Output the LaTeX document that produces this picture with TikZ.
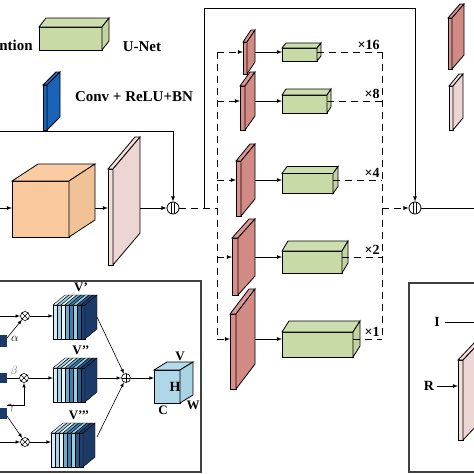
\documentclass[tikz,border=0pt]{standalone}
\usepackage{fontspec}
\setmainfont{Liberation Serif}
\usetikzlibrary{arrows}

\definecolor{unetgreen}{HTML}{C8DBA6}
\definecolor{convblue}{HTML}{1A66BF}
\definecolor{cubeorange}{HTML}{F9C89C}
\definecolor{slabpink}{HTML}{F3DCDA}
\definecolor{slabred}{HTML}{D98E88}
\definecolor{cubeblue}{HTML}{AED8EA}
\definecolor{navy}{HTML}{1C3A66}
\definecolor{sA}{HTML}{D4ECF5}
\definecolor{sB}{HTML}{A8D4E8}
\definecolor{sC}{HTML}{E6F4F9}
\definecolor{sD}{HTML}{6FAACB}
\definecolor{sE}{HTML}{3F7FAE}
\definecolor{sF}{HTML}{9DCBE0}
\definecolor{sG}{HTML}{2A5A8C}
\definecolor{sH}{HTML}{1F3F6E}

% box with front face at (#1,#2), size #3 x #4, depth #5 right and #6 up
\newcommand{\cuboid}[7]{%
  \filldraw[fill=#7] ({#1},{#2}) rectangle ++({#3},{#4});
  \filldraw[fill=#7!92!white] ({#1},{#2}) -- ++({#5},{-(#6)}) -- ++({#3},0) -- ++({-(#5)},{#6}) -- cycle;
  \filldraw[fill=#7!97!black] ({#1+#3},{#2}) -- ++({#5},{-(#6)}) -- ++(0,{#4}) -- ++({-(#5)},{#6}) -- cycle;
}

\tikzset{
  lbl/.style={font=\bfseries\fontsize{15}{18}\selectfont, inner sep=0pt},
  smlbl/.style={font=\bfseries\fontsize{13}{15}\selectfont, inner sep=0pt},
  catnode/.style={circle, draw, fill=white, minimum size=12pt, inner sep=0pt,
    path picture={\draw ([xshift=-1.6pt]path picture bounding box.north) -- ([xshift=-1.6pt]path picture bounding box.south)
      ([xshift=1.6pt]path picture bounding box.north) -- ([xshift=1.6pt]path picture bounding box.south);}},
  multnode/.style={circle, draw, fill=white, minimum size=9pt, inner sep=0pt, line width=0.6pt,
    path picture={\draw (path picture bounding box.north west) -- (path picture bounding box.south east)
      (path picture bounding box.south west) -- (path picture bounding box.north east);}},
  sumnode/.style={circle, draw, fill=white, minimum size=9pt, inner sep=0pt, line width=0.6pt,
    path picture={\draw (path picture bounding box.north) -- (path picture bounding box.south)
      (path picture bounding box.west) -- (path picture bounding box.east);}},
  dash line/.style={dash pattern=on 7pt off 5pt},
}

\begin{document}
\begin{tikzpicture}[x=1pt,y=-1pt,line width=0.8pt,>=latex]
\useasboundingbox (0,0) rectangle (474,474);

% Draw legend
\node[lbl,anchor=east] (attn) at (33,45) {ntion};
\cuboid{39}{27}{63}{23}{7}{9}{unetgreen}
\node[lbl] (unet) at (142,47) {U-Net};
\cuboid{43}{85}{4}{45}{13}{13}{convblue}
\node[lbl] (conv) at (134,97) {Conv + ReLU+BN};
\cuboid{448}{18}{4}{51}{12}{14}{slabred}
\cuboid{449}{86}{4}{44}{10}{12}{slabpink}

% Draw concat nodes
\node[catnode] (cat1) at (173,208) {};
\node[catnode] (cat2) at (415,208) {};

% Draw skip line from the top
\coordinate (skip) at (0,131);
\draw[->] (skip) -| (cat1.north);

% Draw first stage: box and slab
\coordinate (xin) at (0,208);
\coordinate (cube in) at (12,208);
\coordinate (cube out) at (95,208);
\coordinate (slab in) at (108,208);
\coordinate (slab out) at (140,208);
\cuboid{12}{181}{57}{56}{26}{17}{cubeorange}
\cuboid{108}{169}{5}{96}{27}{32}{slabpink}
\draw[->] (xin) -- (cube in);
\draw[->] (cube out) -- (slab in);
\draw[->] (slab out) -- (cat1.west);

% Draw pyramid branches
\coordinate (pyr in) at (217,208);
\coordinate (pyr out) at (382,208);
\coordinate (split) at (204,208);
\coordinate (corner) at (415,8);
\draw[dash line] (cat1.east) -- (pyr in);
\draw[->] (split) |- (corner) -- (cat2.north);
\draw[dash line] (217,52) -- (217,339);
\draw[dash line] (382,52) -- (382,339);
\draw[dash line,->] (pyr out) -- (cat2.west);
\foreach \n/\y/\sx/\sh/\sdx/\sdy/\gw/\gh/\gdx/\gdy/\k in
  {a/52/243/32/8/12/35/13/4/5/16, b/101/240/44/10/14/45/18/4/6/8,
   c/180/236/55/14/17/51/20/5/7/4, d/257/232/57/17/19/60/22/6/10/2,
   e/339/230/75/19/25/71/25/7/11/1}
{
  \cuboid{\sx}{\y+(\sdy-\sh)/2}{255-\sdx-\sx}{\sh}{\sdx}{\sdy}{slabred}
  \cuboid{282}{\y+(\gdy-\gh)/2}{\gw}{\gh}{\gdx}{\gdy}{unetgreen}
  \coordinate (in\n) at (217,\y);
  \coordinate (slab\n) at (\sx,\y);
  \coordinate (back\n) at (255,\y);
  \coordinate (box\n) at (282,\y);
  \coordinate (end\n) at ({282+\gw},\y);
  \coordinate (out\n) at (382,\y);
  \draw[dash line,->] (in\n) -- (slab\n);
  \draw[->] (back\n) -- (box\n);
  \draw[dash line] (end\n) -- (out\n);
  \node[smlbl,font=\bfseries\fontsize{14}{16}\selectfont,anchor=south east] (k\n) at (380,{\y-2}) {×\k};
}
\coordinate (yout) at (474,208);
\draw (cat2.east) -- (yout);

% Draw lower left frame
\draw[line width=1.3pt, black!75] (0,281) -- (201,281) -- (201,472) -- (0,472);

% Draw weights and multiply nodes
\node[multnode] (m1) at (25,316) {};
\node[multnode] (m2) at (24,378) {};
\node[multnode] (m3) at (25,442) {};
\fill[navy] (0,335) rectangle (7,347);
\fill[navy] (0,373) rectangle (7,383);
\fill[navy] (0,408) rectangle (7,419);
\coordinate (in1) at (0,316);
\coordinate (in3) at (0,442);
\coordinate (w1) at (7,338);
\coordinate (w2) at (7,378);
\coordinate (w3) at (7,405);
\coordinate (w3b) at (7,416);
\draw[->,line width=0.6pt] (in1) -- (m1);
\draw[->,line width=0.6pt] (in3) -- (m3);
\draw[->,line width=0.6pt] (w1) -- (m1);
\draw[line width=0.6pt] (w2) -- (m2);
\draw[->,line width=0.6pt] (w3) -| (m2.south);
\draw[->,line width=0.6pt] (w3b) -- (m3);
\node[font=\fontsize{12}{13}\selectfont] (alpha) at (15,339) {$\alpha$};
\node[font=\fontsize{12}{13}\selectfont, text=black!60] (beta) at (14,371) {$\beta$};
\node[font=\fontsize{12}{13}\selectfont] (gamma) at (11,408) {$\gamma$};

% Draw the three stacks
\foreach \s/\sy/\sx/\lab/\oy in {p/305/53/{V'}/317, q/368/53/{V'{}'}/378, r/433/51/{V'{}'{}'}/437}
{
  \foreach \c [count=\i from 0] in {sA,sB,sC,sD,sE,sF,sG,sH}
  {
    \filldraw[fill=\c,line width=0.4pt] ({\sx+4*\i},\sy) rectangle ++(4,34);
    \filldraw[fill=\c,line width=0.4pt] ({\sx+4*\i},\sy) -- ++(12,-10) -- ++(4,0) -- ++(-12,10) -- cycle;
  }
  \filldraw[fill=navy,line width=0.4pt] ({\sx+32},\sy) -- ++(12,-10) -- ++(0,34) -- ++(-12,10) -- cycle;
  \node[smlbl] (lab\s) at ({\sx+28},{\sy-18}) {\lab};
  \coordinate (stack\s) at (97,\oy);
}
\coordinate (pin) at (53,316);
\coordinate (qin) at (53,378);
\coordinate (rin) at (51,442);
\draw[->,line width=0.6pt] (m1) -- (pin);
\draw[->,line width=0.6pt] (m2) -- (qin);
\draw[->,line width=0.6pt] (m3) -- (rin);

% Draw sum node and output cube
\node[sumnode] (sum) at (126,378) {};
\draw[->,line width=0.6pt] (stackp) -- (sum);
\draw[->,line width=0.6pt] (stackq) -- (sum);
\draw[->,line width=0.6pt] (stackr) -- (sum);
\cuboid{154}{370}{26}{33}{13}{8}{cubeblue}
\coordinate (vcube) at (154,378);
\draw[->,line width=0.6pt] (sum) -- (vcube);
\node[smlbl] (lv) at (180,356) {V};
\node[smlbl,font=\bfseries\fontsize{14}{15}\selectfont] (lh) at (175,387) {H};
\node[smlbl] (lc) at (163,410) {C};
\node[smlbl] (lw) at (193,405) {W};

% Draw lower right frame
\draw[line width=1.3pt, black!75] (474,283) -- (409,283) -- (409,472) -- (474,472);
\node[lbl,font=\bfseries\fontsize{14}{16}\selectfont] (li) at (437,322) {I};
\node[lbl,font=\bfseries\fontsize{14}{16}\selectfont] (lr) at (429,386) {R};
\coordinate (iend) at (474,322);
\coordinate (rslab) at (458,386);
\draw (li.east) ++(5,0) -- (iend);
\cuboid{458}{360}{5}{80}{16}{17}{slabpink}
\draw[->] (lr.east) ++(3,0) -- (rslab);
\end{tikzpicture}
\end{document}
